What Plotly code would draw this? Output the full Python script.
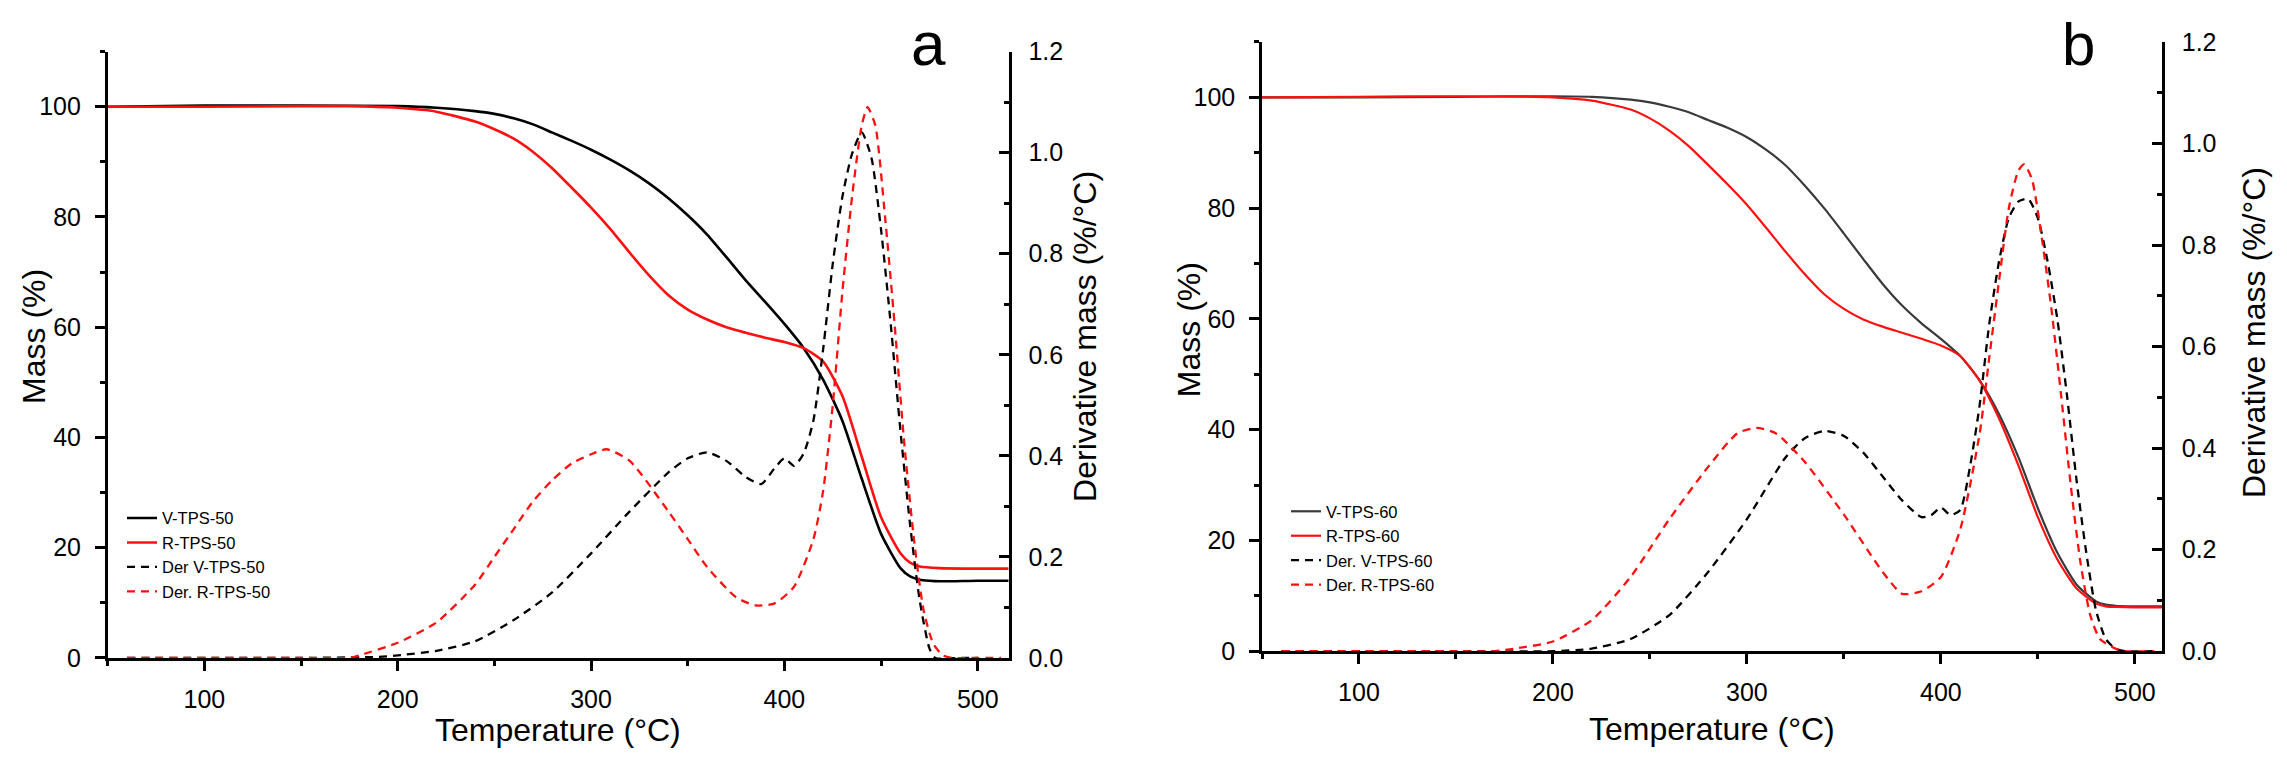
import plotly.graph_objects as go

# ---------------- Panel a data ----------------
T_a_tga = [50, 100, 150, 200, 220, 240, 250, 260, 270, 280, 290, 300, 310, 320, 330, 340, 350,
           360, 370, 380, 390, 400, 410, 420, 430, 440, 450, 460, 465, 470, 475, 480, 500, 516]
mass_V50 = [100, 100.2, 100.2, 100.1, 99.8, 99.2, 98.7, 97.9, 96.8, 95.3, 93.8, 92.2, 90.4, 88.4,
            86.1, 83.4, 80.3, 76.8, 72.7, 68.5, 64.6, 60.6, 56.2, 50.5, 43.0, 32.5, 22.5, 16.3,
            14.8, 14.2, 14.0, 13.9, 14.0, 14.0]
T_a_tga_r = [50, 100, 150, 175, 200, 220, 240, 250, 260, 270, 280, 290, 300, 310, 320, 330, 340,
             350, 360, 370, 380, 390, 400, 410, 420, 430, 440, 450, 460, 465, 470, 480, 500, 516]
mass_R50 = [100, 100, 100.1, 100.1, 99.8, 99.1, 97.3, 95.9, 94.2, 91.8, 88.8, 85.3, 81.7, 77.8,
            73.5, 69.4, 65.8, 63.2, 61.4, 60.0, 59.0, 58.1, 57.3, 56.2, 53.8, 47.5, 36.5, 25.5,
            19.0, 17.3, 16.6, 16.3, 16.2, 16.2]

T_a_dV = [60, 150, 190, 200, 220, 240, 260, 280, 300, 320, 340, 350, 360, 370, 380, 388, 395, 400,
          405, 410, 415, 420, 425, 430, 435, 440, 445, 450, 455, 460, 465, 470, 475, 478, 490, 500]
der_V50 = [0, 0, 0.002, 0.005, 0.014, 0.033, 0.075, 0.13, 0.207, 0.29, 0.367, 0.395, 0.407, 0.39,
           0.358, 0.344, 0.376, 0.395, 0.38, 0.405, 0.47, 0.61, 0.78, 0.913, 0.998, 1.04, 0.99,
           0.847, 0.66, 0.45, 0.264, 0.113, 0.019, 0, 0, 0]
T_a_dR = [60, 150, 175, 180, 200, 220, 240, 250, 260, 270, 280, 290, 300, 308, 320, 340, 350, 360,
          375, 385, 395, 405, 415, 420, 425, 430, 435, 440, 443, 447, 452, 457, 462, 467, 472, 477,
          482, 487, 500, 512]
der_R50 = [0, 0, 0, 0.005, 0.03, 0.07, 0.145, 0.2, 0.255, 0.31, 0.352, 0.385, 0.403, 0.413, 0.39,
           0.29, 0.235, 0.18, 0.12, 0.104, 0.108, 0.141, 0.235, 0.33, 0.5, 0.725, 0.913, 1.054,
           1.09, 1.054, 0.875, 0.66, 0.424, 0.235, 0.094, 0.028, 0.005, 0, 0, 0]

# ---------------- Panel b data ----------------
T_b_tga = [50, 100, 150, 200, 220, 240, 250, 260, 270, 280, 290, 300, 310, 320, 330, 340, 350,
           360, 370, 380, 390, 400, 410, 420, 430, 440, 450, 460, 470, 480, 485, 490, 500, 514]
mass_V60 = [100, 100, 100.1, 100.2, 100.1, 99.6, 99.1, 98.3, 97.3, 95.9, 94.5, 92.8, 90.5, 87.7,
            84.0, 79.9, 75.4, 70.8, 66.3, 62.4, 59.2, 56.4, 53.3, 48.9, 42.8, 35.0, 25.8, 17.8,
            12.0, 9.0, 8.4, 8.2, 8.1, 8.1]
mass_R60 = [100, 100.1, 100.2, 100, 99.4, 97.8, 96.2, 94.0, 91.2, 87.8, 84.3, 80.6, 76.4, 72.1,
            68.0, 64.4, 61.8, 59.9, 58.6, 57.5, 56.4, 55.2, 53.3, 48.8, 42.0, 33.5, 24.2, 16.6,
            11.3, 8.6, 8.1, 8.0, 7.9, 7.9]

T_b_dV = [60, 150, 200, 220, 240, 260, 280, 300, 320, 330, 340, 350, 360, 370, 380, 390, 395, 400,
          405, 410, 415, 420, 425, 430, 435, 440, 445, 450, 455, 460, 465, 470, 475, 480, 485, 490,
          495, 510]
der_V60 = [0, 0, 0, 0.005, 0.024, 0.071, 0.156, 0.26, 0.382, 0.42, 0.434, 0.424, 0.391, 0.344,
           0.297, 0.264, 0.268, 0.283, 0.268, 0.278, 0.363, 0.485, 0.646, 0.768, 0.853, 0.886,
           0.891, 0.853, 0.768, 0.655, 0.504, 0.335, 0.193, 0.08, 0.024, 0.005, 0, 0]
T_b_dR = [60, 150, 170, 180, 200, 220, 240, 260, 280, 295, 305, 315, 330, 350, 370, 380, 390, 400,
          410, 420, 425, 430, 435, 440, 443, 447, 452, 457, 462, 467, 472, 477, 482, 490, 495, 510]
der_R60 = [0, 0, 0, 0.005, 0.019, 0.061, 0.146, 0.26, 0.363, 0.429, 0.44, 0.429, 0.372, 0.269,
           0.156, 0.113, 0.118, 0.146, 0.24, 0.429, 0.58, 0.73, 0.872, 0.947, 0.959, 0.929, 0.815,
           0.674, 0.504, 0.325, 0.174, 0.071, 0.024, 0.005, 0, 0]

x_ticks = [100, 200, 300, 400, 500]
mass_ticks = [0, 20, 40, 60, 80, 100]
der_ticks = [0.0, 0.2, 0.4, 0.6, 0.8, 1.0, 1.2]

RED = "#ff1010"
BLACK = "#000000"
GRAY = "#3a3a3a"
FONT = "Liberation Sans, Arial, sans-serif"
W, H = 2287, 777

fig = go.Figure()

def line(x, y, name, color, dash, xa, ya, legend, width=2.6):
    fig.add_trace(go.Scatter(
        x=x, y=y, name=name, mode="lines",
        line=dict(color=color, width=width, dash=dash, shape="spline", smoothing=0.6),
        xaxis=xa, yaxis=ya, legend=legend))

DASH = "8px,6px"
line(T_a_tga, mass_V50, "V-TPS-50", BLACK, "solid", "x", "y", "legend")
line(T_a_tga_r, mass_R50, "R-TPS-50", RED, "solid", "x", "y", "legend")
line(T_a_dV, der_V50, "Der V-TPS-50", BLACK, DASH, "x", "y2", "legend", 2.3)
line(T_a_dR, der_R50, "Der. R-TPS-50", RED, DASH, "x", "y2", "legend", 2.3)

line(T_b_tga, mass_V60, "V-TPS-60", GRAY, "solid", "x2", "y3", "legend2", 2.2)
line(T_b_tga, mass_R60, "R-TPS-60", RED, "solid", "x2", "y3", "legend2", 2.2)
line(T_b_dV, der_V60, "Der. V-TPS-60", BLACK, DASH, "x2", "y4", "legend2", 2.3)
line(T_b_dR, der_R60, "Der. R-TPS-60", RED, DASH, "x2", "y4", "legend2", 2.3)

tickfont = dict(family=FONT, size=25, color="black")
common_x = dict(showgrid=False, zeroline=False, showline=True, linecolor="black", linewidth=2.5,
                ticks="outside", ticklen=10, tickwidth=2.5, tickcolor="black",
                tickvals=x_ticks, tickfont=tickfont, ticklabelstandoff=7,
                minor=dict(dtick=50, tick0=0, ticks="outside", ticklen=5, tickwidth=2.5, tickcolor="black"))
common_y = dict(showgrid=False, zeroline=False, showline=True, linecolor="black", linewidth=2.5,
                ticks="outside", ticklen=10, tickwidth=2.5, tickcolor="black",
                tickvals=mass_ticks, tickfont=tickfont, ticklabelstandoff=9, range=[0, 110],
                minor=dict(dtick=10, tick0=0, ticks="outside", ticklen=5, tickwidth=2.5, tickcolor="black"))
common_y2 = dict(showgrid=False, zeroline=False, showline=True, linecolor="black", linewidth=2.5,
                 ticks="inside", ticklen=10, tickwidth=2.5, tickcolor="black",
                 tickvals=der_ticks, tickformat=".1f", tickfont=tickfont, ticklabelstandoff=12,
                 range=[0, 1.2], side="right",
                 minor=dict(dtick=0.1, tick0=0, ticks="inside", ticklen=5, tickwidth=2.5, tickcolor="black"))

def px_x(p): return p / W
def px_y(p): return 1 - p / H

ax_a = (107.7, 1008.7, 39, 668)
ax_b = (1262, 2162, 29, 661)

fig.update_layout(
    width=W, height=H, margin=dict(l=0, r=0, t=0, b=0),
    paper_bgcolor="white", plot_bgcolor="white",
    font=dict(family=FONT, color="black"),
    xaxis=dict(domain=[px_x(ax_a[0]), px_x(ax_a[1])], range=[50, 516], anchor="y", **common_x),
    yaxis=dict(domain=[px_y(ax_a[3]), px_y(ax_a[2])], anchor="x", **common_y),
    yaxis2=dict(overlaying="y", anchor="x", **common_y2),
    xaxis2=dict(domain=[px_x(ax_b[0]), px_x(ax_b[1])], range=[50, 514], anchor="y3", **common_x),
    yaxis3=dict(domain=[px_y(ax_b[3]), px_y(ax_b[2])], anchor="x2", **common_y),
    yaxis4=dict(overlaying="y3", anchor="x2", **common_y2),
    legend=dict(x=px_x(122), y=px_y(505), xanchor="left", yanchor="top",
                bgcolor="rgba(0,0,0,0)", font=dict(family=FONT, size=16.5, color="black"),
                tracegroupgap=0, itemwidth=30),
    legend2=dict(x=px_x(1286), y=px_y(498), xanchor="left", yanchor="top",
                 bgcolor="rgba(0,0,0,0)", font=dict(family=FONT, size=16.5, color="black"),
                 tracegroupgap=0, itemwidth=30),
    showlegend=True,
)

ann = []
def add_text(x, y, text, size=32, angle=0):
    ann.append(dict(x=px_x(x), y=px_y(y), xref="paper", yref="paper", text=text,
                    showarrow=False, textangle=angle, xanchor="center", yanchor="middle",
                    font=dict(family=FONT, size=size, color="black")))

add_text(558, 743, "Temperature (°C)")
add_text(34, 335, "Mass (%)", angle=-90)
add_text(1085, 335, "Derivative mass (%/°C)", angle=-90)
add_text(1712, 742, "Temperature (°C)")
add_text(1189, 328, "Mass (%)", angle=-90)
add_text(2254, 331, "Derivative mass (%/°C)", angle=-90)
add_text(928, 31, "a", size=62)
add_text(2078, 32, "b", size=60)
fig.update_layout(annotations=ann)

fig.write_html("out.html")
